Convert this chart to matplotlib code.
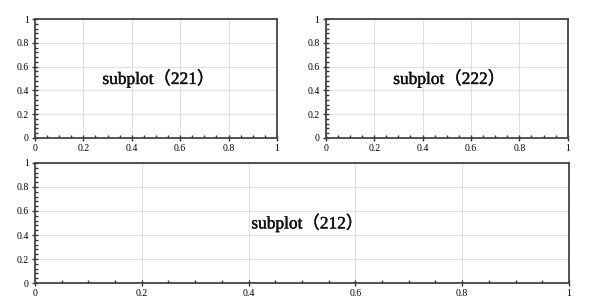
import numpy as np
import matplotlib.pyplot as plt
import matplotlib.patheffects as pe
from matplotlib.ticker import MultipleLocator

# textos de cada subgráfico
etiquetas = ['subplot（221）', 'subplot（222）', 'subplot（212）']
ticks = [0, 0.2, 0.4, 0.6, 0.8, 1]
tick_labels = ['0', '0.2', '0.4', '0.6', '0.8', '1']

fig = plt.figure(figsize=(6, 3.08), dpi=100)

# posiciones [izq, abajo, ancho, alto]
posiciones = [
    [0.0583, 0.552, 0.4033, 0.386],
    [0.543, 0.552, 0.4033, 0.386],
    [0.0583, 0.081, 0.890, 0.390],
]

fuente = ['Liberation Serif', 'Noto Sans CJK SC']

for pos, txt in zip(posiciones, etiquetas):
    ax = fig.add_axes(pos)
    ax.set_xlim(0, 1)
    ax.set_ylim(0, 1)
    ax.set_xticks(ticks)
    ax.set_yticks(ticks)
    ax.set_xticklabels(tick_labels, family=fuente, fontsize=7)
    ax.set_yticklabels(tick_labels, family=fuente, fontsize=7)
    ax.xaxis.set_minor_locator(MultipleLocator(0.05))
    ax.yaxis.set_minor_locator(MultipleLocator(0.04))
    ax.tick_params(which='major', direction='inout', length=5, width=1, color='#333333', pad=2)
    ax.tick_params(which='minor', direction='in', length=2.5, width=1, color='#333333')
    ax.tick_params(top=False, right=False, which='both')
    ax.grid(True, color='#e0e0e0', linewidth=0.8)
    for s in ax.spines.values():
        s.set_color('#444444')
        s.set_linewidth(1.3)
    ax.text(0.51, 0.5, txt, transform=ax.transAxes, ha='center', va='center',
            fontsize=12.5, family=fuente, color='#111111',
            path_effects=[pe.withStroke(linewidth=0.3, foreground='#111111')])

plt.savefig('out.png', dpi=100)
